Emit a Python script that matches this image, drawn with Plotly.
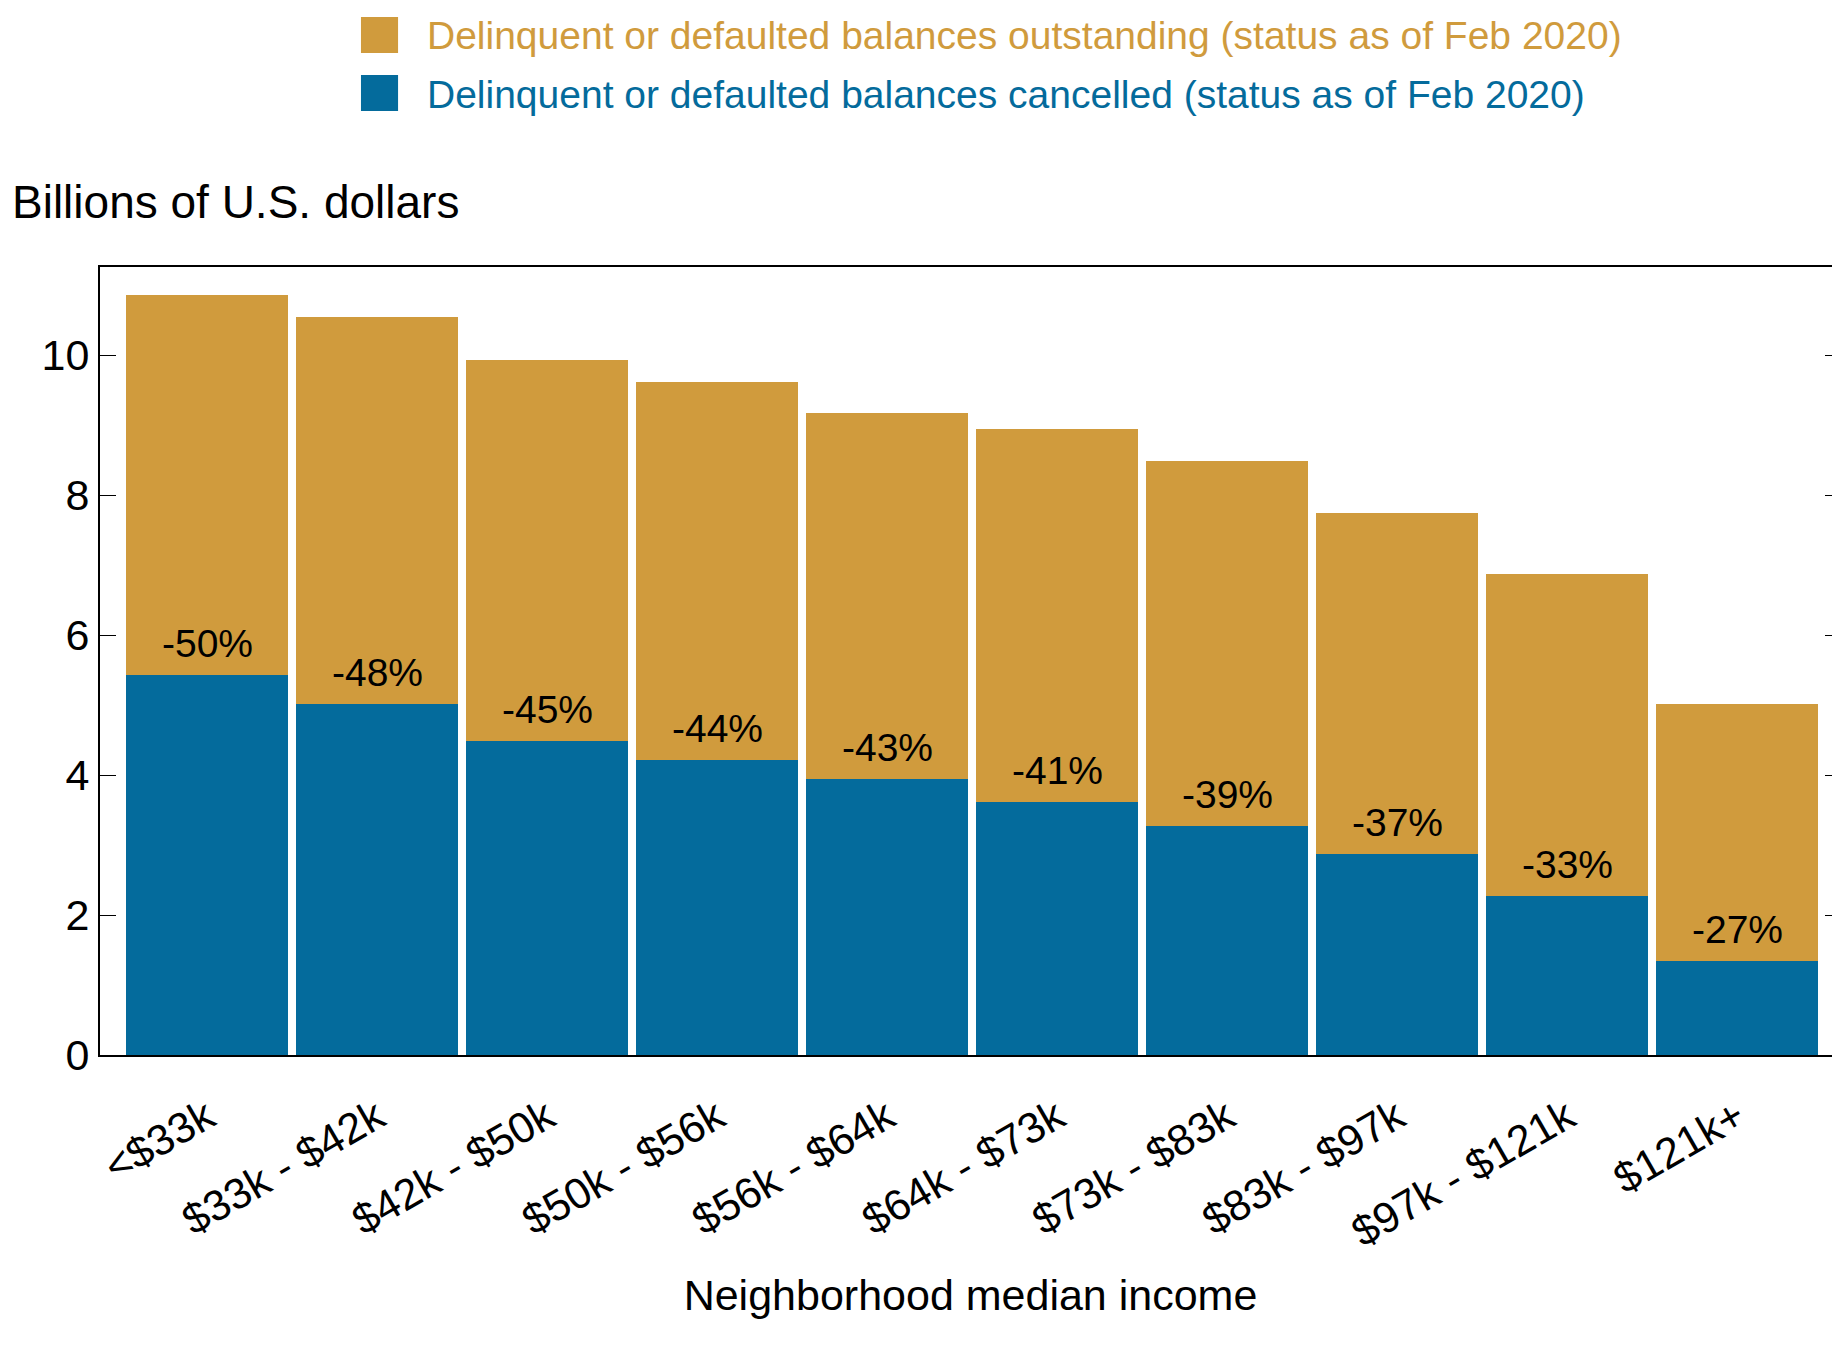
import plotly.graph_objects as go

categories = ["<$33k", "$33k - $42k", "$42k - $50k", "$50k - $56k", "$56k - $64k",
              "$64k - $73k", "$73k - $83k", "$83k - $97k", "$97k - $121k", "$121k+"]
total = [10.86, 10.54, 9.93, 9.61, 9.18, 8.94, 8.49, 7.75, 6.88, 5.01]
cancelled = [5.43, 5.01, 4.49, 4.21, 3.94, 3.61, 3.27, 2.87, 2.27, 1.35]
pct_labels = ["-50%", "-48%", "-45%", "-44%", "-43%", "-41%", "-39%", "-37%", "-33%", "-27%"]
outstanding = [t - c for t, c in zip(total, cancelled)]
legend_names = ["Delinquent or defaulted balances outstanding (status as of Feb 2020)",
                "Delinquent or defaulted balances cancelled (status as of Feb 2020)"]

GOLD = "#D09B3D"
BLUE = "#046B9C"
FONT = "Liberation Sans, Arial, sans-serif"

fig = go.Figure()
fig.add_bar(x=categories, y=cancelled, marker_color=BLUE, marker_line_width=0, name=legend_names[1])
fig.add_bar(x=categories, y=outstanding, marker_color=GOLD, marker_line_width=0, name=legend_names[0])

for c, v, t in zip(categories, cancelled, pct_labels):
    fig.add_annotation(x=c, y=v, text=t, showarrow=False, yanchor="bottom", yshift=8,
                       font=dict(size=39, color="black", family=FONT))

# manual legend
for (y0, y1, yt), col, name in zip([(1.3173, 1.2716, 1.294), (1.2437, 1.198, 1.2195)],
                                   [GOLD, BLUE], legend_names):
    fig.add_shape(type="rect", xref="paper", yref="paper", x0=0.1499, x1=0.1712,
                  y0=y1, y1=y0, fillcolor=col, line_width=0)
    fig.add_annotation(xref="paper", yref="paper", x=0.1867, y=yt, xanchor="left",
                       yanchor="middle", text=name, showarrow=False,
                       font=dict(size=39, color=col, family=FONT))

fig.add_annotation(xref="paper", yref="paper", x=-0.0517, y=1.0825, xanchor="left",
                   yanchor="middle", text="Billions of U.S. dollars", showarrow=False,
                   font=dict(size=46, color="black", family=FONT))

fig.update_layout(
    width=1840, height=1345, barmode="stack", bargap=0.045, showlegend=False,
    plot_bgcolor="white", paper_bgcolor="white",
    margin=dict(l=92, r=7, t=259, b=298, autoexpand=False),
    font=dict(family=FONT, color="black"),
    xaxis=dict(showline=True, mirror=True, linecolor="black", linewidth=2,
               range=[-0.63, 9.61], tickangle=-30, tickfont=dict(size=43), ticks="",
               ticklabelstandoff=18,
               title=dict(text="Neighborhood median income", font=dict(size=43), standoff=25)),
    yaxis=dict(range=[0, 11.26], dtick=2, showline=True, mirror="allticks", linecolor="black",
               linewidth=2, ticks="inside", ticklen=16, tickcolor="black", showgrid=False,
               zeroline=False, tickfont=dict(size=43)),
)
fig.write_html("out.html")
